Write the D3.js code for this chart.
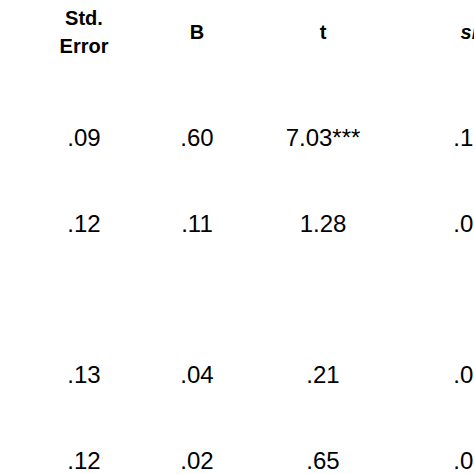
<!DOCTYPE html><html><head><meta charset="utf-8">
<script src="https://cdn.jsdelivr.net/npm/d3@7"></script>
<style>body{margin:0;background:#fff}</style></head><body>
<svg id="c" width="474" height="474"></svg>
<script>
const headers = [["Std.","Error"],["B"],["t"],["sr"]];
const stdError = [".09",".12",".13",".12"];
const bValues = [".60",".11",".04",".02"];
const tValues = ["7.03***","1.28",".21",".65"];
const srValues = [".1",".0",".0",".0"];
const svg = d3.select("#c");
const font = "Liberation Sans, Arial, sans-serif";
const x = d3.scaleOrdinal().domain([0,1,2,3]).range([84,197,323,470]);
const rowPos = [0,1,2.75,3.75];
const y = d3.scaleLinear().domain([0,3.75]).range([146,469]);
headers.forEach((h,i)=>{
  h.forEach((line,j)=>{
    const yy = h.length===2 ? 25+j*28 : 39;
    svg.append("text").attr("x",x(i)).attr("y",yy).attr("text-anchor","middle")
      .attr("font-family",font).attr("font-size",20).attr("font-weight","bold")
      .attr("font-style",i===3?"italic":"normal").attr("fill","#000").text(line);
  });
});
[stdError,bValues,tValues,srValues].forEach((col,i)=>{
  svg.selectAll(null).data(col).enter().append("text")
    .attr("x",x(i)).attr("y",(d,k)=>y(rowPos[k])).attr("text-anchor","middle")
    .attr("font-family",font).attr("font-size",24).attr("fill","#000").text(d=>i===3?d+"5":d);
});
</script></body></html>
